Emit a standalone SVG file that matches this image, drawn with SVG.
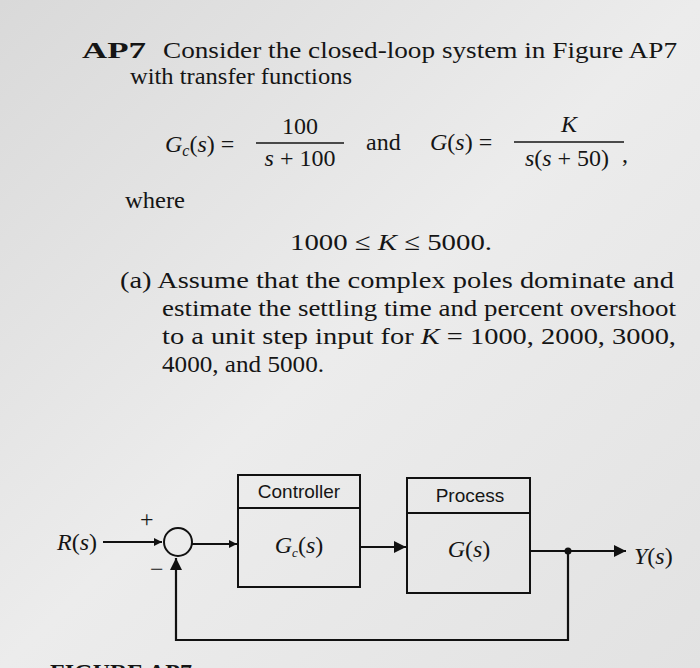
<svg xmlns="http://www.w3.org/2000/svg" width="700" height="668" viewBox="0 0 700 668">
<defs>
<linearGradient id="bg" x1="0" y1="0" x2="1" y2="1">
<stop offset="0" stop-color="#d9d9d9"/><stop offset="0.5" stop-color="#ececec"/><stop offset="1" stop-color="#e2e2e2"/>
</linearGradient>
<marker id="ah" viewBox="0 0 10 10" refX="10" refY="5" markerWidth="8" markerHeight="8" markerUnits="userSpaceOnUse" orient="auto"><path d="M0,0 L10,5 L0,10 z" fill="#111"/></marker>
<marker id="ah2" viewBox="0 0 10 10" refX="10" refY="5" markerWidth="14" markerHeight="12" markerUnits="userSpaceOnUse" orient="auto"><path d="M0,0 L10,5 L0,10 z" fill="#111"/></marker>
</defs>
<style>
text{font-family:"Liberation Serif","Times New Roman",serif;fill:#151515;font-size:24px}
.i{font-style:italic}
.box{fill:none;stroke:#111;stroke-width:2}
.ln{fill:none;stroke:#111;stroke-width:2.2}
.lbl{font-family:"Liberation Sans",Arial,sans-serif;font-size:19px}
</style>
<rect width="700" height="668" fill="url(#bg)"/>
<g id="text">
<text x="82" y="58" font-weight="bold" textLength="64" lengthAdjust="spacingAndGlyphs">AP7</text>
<text x="163" y="58" textLength="514" lengthAdjust="spacingAndGlyphs">Consider the closed-loop system in Figure AP7</text>
<text x="130" y="84" textLength="222" lengthAdjust="spacingAndGlyphs">with transfer functions</text>
<text x="165" y="152"><tspan class="i">G</tspan><tspan font-size="16" class="i" dy="4">c</tspan><tspan dy="-4">(</tspan><tspan class="i">s</tspan>) =</text>
<text x="300" y="134" text-anchor="middle">100</text>
<line x1="256" y1="143" x2="344" y2="143" stroke="#151515" stroke-width="1.3"/>
<text x="300" y="166" text-anchor="middle"><tspan class="i">s</tspan> + 100</text>
<text x="366" y="150">and</text>
<text x="430" y="150"><tspan class="i">G</tspan>(<tspan class="i">s</tspan>) =</text>
<text x="569" y="132" text-anchor="middle" class="i">K</text>
<line x1="514" y1="142" x2="624" y2="142" stroke="#151515" stroke-width="1.3"/>
<text x="567" y="166" text-anchor="middle"><tspan class="i">s</tspan>(<tspan class="i">s</tspan> + 50)</text>
<text x="622" y="162">,</text>
<text x="125" y="208" textLength="60" lengthAdjust="spacingAndGlyphs">where</text>
<text x="290" y="250" textLength="202" lengthAdjust="spacingAndGlyphs">1000 ≤ <tspan class="i">K</tspan> ≤ 5000.</text>
<text x="120" y="288" textLength="554" lengthAdjust="spacingAndGlyphs">(a) Assume that the complex poles dominate and</text>
<text x="162" y="316" textLength="514" lengthAdjust="spacingAndGlyphs">estimate the settling time and percent overshoot</text>
<text x="162" y="344" textLength="514" lengthAdjust="spacingAndGlyphs">to a unit step input for <tspan class="i">K</tspan> = 1000, 2000, 3000,</text>
<text x="162" y="372" textLength="162" lengthAdjust="spacingAndGlyphs">4000, and 5000.</text>
<text x="50" y="680" font-weight="bold" font-family="Liberation Sans,Arial,sans-serif">FIGURE AP7</text>
</g>
<g id="controller">
<rect class="box" x="238" y="475" width="122" height="112"/>
<line class="box" x1="238" y1="508" x2="360" y2="508"/>
<text class="lbl" x="299" y="498" text-anchor="middle">Controller</text>
<text x="299" y="553" text-anchor="middle" font-size="19"><tspan class="i">G</tspan><tspan font-size="13" class="i" dy="4">c</tspan><tspan dy="-4">(</tspan><tspan class="i">s</tspan>)</text>
</g>
<g id="process">
<rect class="box" x="407" y="478" width="123" height="115"/>
<line class="box" x1="407" y1="513" x2="530" y2="513"/>
<text class="lbl" x="470" y="502" text-anchor="middle">Process</text>
<text x="469" y="557" text-anchor="middle" font-size="19"><tspan class="i">G</tspan>(<tspan class="i">s</tspan>)</text>
</g>
<g id="sum">
<circle cx="178" cy="542" r="14" fill="none" stroke="#111" stroke-width="2"/>
<text x="140" y="527" font-size="18">+</text>
<text x="150" y="577" font-size="18">−</text>
</g>
<g id="labels">
<text x="57" y="550" font-size="19"><tspan class="i">R</tspan>(<tspan class="i">s</tspan>)</text>
<text x="634" y="564" font-size="19"><tspan class="i">Y</tspan>(<tspan class="i">s</tspan>)</text>
</g>
<g id="connectors">
<line class="ln" x1="103" y1="542" x2="162" y2="542" marker-end="url(#ah)"/>
<line class="ln" x1="192" y1="544" x2="237" y2="544" marker-end="url(#ah)"/>
<line class="ln" x1="360" y1="547" x2="406" y2="547" marker-end="url(#ah2)"/>
<line class="ln" x1="530" y1="551" x2="626" y2="551" marker-end="url(#ah2)"/>
<circle cx="568" cy="551" r="3.5" fill="#111"/>
<polyline class="ln" points="568,551 568,640 176,640 176,558" marker-end="url(#ah2)"/>
</g>
</svg>
